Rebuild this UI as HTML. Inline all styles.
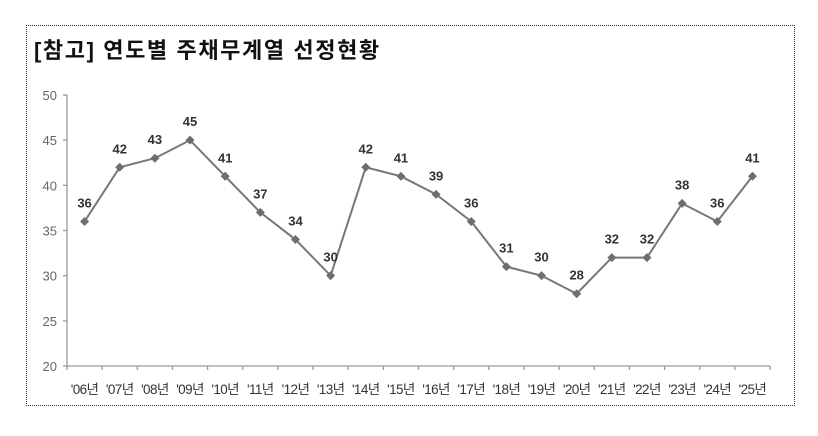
<!DOCTYPE html>
<html><head><meta charset="utf-8"><style>
body{margin:0;background:#fff;width:818px;height:436px;overflow:hidden;font-family:"Liberation Sans","Noto Sans CJK KR",sans-serif}
#box{position:absolute;left:26px;top:25px;width:769px;height:381px;border:1px dotted #333;box-sizing:border-box}
#title{position:absolute;left:34px;top:33px;font-size:22px;font-weight:bold;color:#111;font-family:"Liberation Sans","Noto Sans CJK KR",sans-serif;letter-spacing:1.6px}
svg{position:absolute;left:0;top:0}
</style></head><body>
<div id="box"></div>
<div id="title">[참고] 연도별 주채무계열 선정현황</div>
<svg id="c" width="818" height="436"></svg>
<script>
const categories=["'06년","'07년","'08년","'09년","'10년","'11년","'12년","'13년","'14년","'15년","'16년","'17년","'18년","'19년","'20년","'21년","'22년","'23년","'24년","'25년"];
const values=[36,42,43,45,41,37,34,30,42,41,39,36,31,30,28,32,32,38,36,41];
const yTicks=[20,25,30,35,40,45,50];
const NS="http://www.w3.org/2000/svg";
const svg=document.getElementById('c');
const X0=67,X1=770,Y0=366,Y1=95,YMIN=20,YMAX=50;
const bw=(X1-X0)/categories.length;
const xs=i=>X0+bw*(i+0.5);
const ys=v=>Y0-(v-YMIN)/(YMAX-YMIN)*(Y0-Y1);
function mk(t,a){const e=document.createElementNS(NS,t);for(const k in a)e.setAttribute(k,a[k]);svg.appendChild(e);return e;}
let e=mk('line',{x1:X0,y1:Y1,x2:X0,y2:Y0,stroke:'#999','stroke-width':1.3});


e=mk('line',{x1:X0,y1:Y0,x2:X1,y2:Y0,stroke:'#999','stroke-width':1.3});


yTicks.forEach(t=>{
 mk('line',{x1:X0-4,y1:ys(t),x2:X0,y2:ys(t),stroke:'#999','stroke-width':1.3});
 const tx=mk('text',{x:X0-10,y:ys(t)+5,'text-anchor':'end','font-size':13,fill:'#666'});
 tx.textContent=t;
 
 
});
for(let i=0;i<=categories.length;i++){mk('line',{x1:X0+bw*i,y1:Y0,x2:X0+bw*i,y2:Y0+4,stroke:'#999','stroke-width':1.3});}
categories.forEach((c,i)=>{
 const tx=mk('text',{x:xs(i),y:Y0+28,'text-anchor':'middle','font-size':13.5,fill:'#333','letter-spacing':'-0.6'});
 tx.textContent=c;
 
 
});
const pl=mk('polyline',{points:values.map((v,i)=>xs(i)+','+ys(v)).join(' '),fill:'none',stroke:'#777','stroke-width':2});


values.forEach((v,i)=>{
 const x=xs(i),y=ys(v);
 const m=mk('polygon',{points:`${x},${y-4.5} ${x+4.5},${y} ${x},${y+4.5} ${x-4.5},${y}`,fill:'#6e6e6e'});
 
 
 const tx=mk('text',{x:x,y:y-14,'text-anchor':'middle','font-size':13,'font-weight':'bold',fill:'#333'});
 tx.textContent=v;
 
 
});
</script>
</body></html>
